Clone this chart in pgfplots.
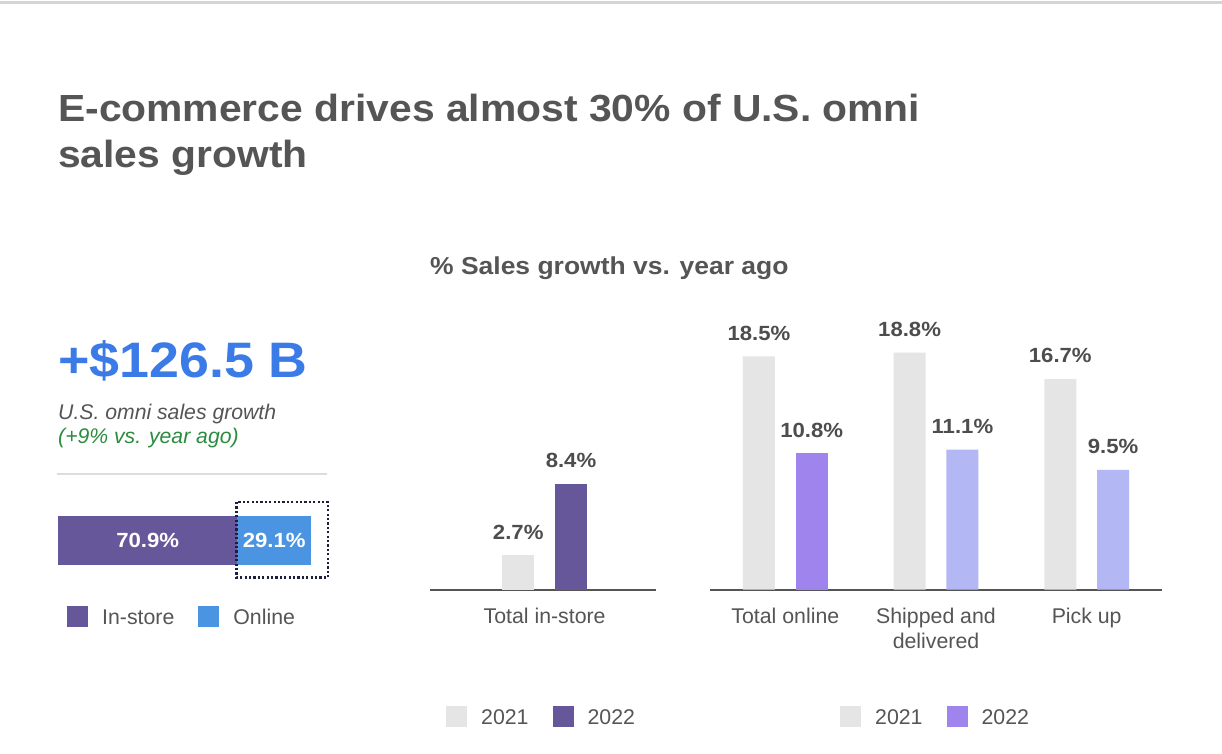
\documentclass[border=0pt]{standalone}
\usepackage{fontspec}
\setmainfont{Liberation Sans}[BoldFeatures={FakeStretch=1.08}]
\usepackage{pgfplots}
\pgfplotsset{compat=1.18}

\definecolor{txt}{HTML}{555555}
\definecolor{valtxt}{HTML}{4D4D4D}
\definecolor{bignum}{HTML}{3B7BE8}
\definecolor{goodgreen}{HTML}{2A8C3F}
\definecolor{instore}{HTML}{66579A}
\definecolor{online}{HTML}{4A94E2}
\definecolor{prior}{HTML}{E5E5E5}
\definecolor{onlineyr}{HTML}{A084EE}
\definecolor{channelyr}{HTML}{B3B8F5}
\definecolor{axisgray}{HTML}{555555}
\definecolor{rulegray}{HTML}{DDDDDD}
\definecolor{topgray}{HTML}{D4D4D4}
\definecolor{boxnavy}{HTML}{1C1F3D}

\newcommand\valfont{\bfseries\fontsize{20.5}{24}\selectfont}
\newcommand\catfont{\fontsize{21.3}{25}\selectfont}

\pgfplotsset{
  swatch legend/.style={
    legend image code/.code={\fill[##1] (0pt,-10.5pt) rectangle (21pt,10.5pt);},
    legend style={draw=none, fill=none, legend columns=2, anchor=west,
      font=\catfont, text=txt, inner sep=0pt,
      cells={anchor=center},
      nodes={inner sep=0pt, text depth=0pt, text height=15pt},
      /tikz/every odd column/.append style={column sep=14pt},
      /tikz/every even column/.append style={column sep=24pt}},
  },
  growth bars/.style={
    scale only axis, height=252pt, ymin=0, ymax=20,
    axis x line=bottom, axis y line=none,
    axis line style={-, draw=axisgray, line width=2pt},
    ytick=\empty, xtick style={draw=none}, major tick length=0pt,
    ybar, bar width=32pt, clip=false,
    /pgf/number format/assume math mode=true,
    nodes near coords={\pgfmathprintnumber[fixed,fixed zerofill,precision=1]{\pgfplotspointmeta}\%},
    every node near coord/.append style={font=\valfont, text=valtxt, inner sep=0pt, yshift=16pt},
    xticklabel style={font=\catfont, text=txt, align=center, anchor=north, inner sep=0pt, yshift=-18.3pt},
    swatch legend,
  },
}

\begin{document}
\begin{tikzpicture}[x=1pt,y=1pt]
\path[use as bounding box] (0,0) rectangle (1222,753);
\fill[white] (0,0) rectangle (1222,753);
\draw[topgray, line width=2.5pt] (0,750.5) -- (1222,750.5);

% headline
\node[anchor=base west, inner sep=0pt, text=txt, font=\bfseries\fontsize{37.8}{44}\selectfont]
  at (58,631) {E-commerce drives almost 30\% of U.S. omni};
\node[anchor=base west, inner sep=0pt, text=txt, font=\bfseries\fontsize{37.8}{44}\selectfont]
  at (58,585) {sales growth};

% panel heading
\node[anchor=base west, inner sep=0pt, text=txt, font=\bfseries\fontsize{24.5}{30}\selectfont]
  at (430,478) {\% Sales growth vs. year ago};

% key figure
\node[anchor=base west, inner sep=0pt, text=bignum, font=\bfseries\fontsize{49.8}{56}\selectfont]
  at (58,375) {+\$126.5 B};
\node[anchor=base west, inner sep=0pt, text=txt, font=\itshape\fontsize{21.2}{25}\selectfont]
  at (58,334) {U.S. omni sales growth};
\node[anchor=base west, inner sep=0pt, text=goodgreen, font=\itshape\fontsize{21.2}{25}\selectfont]
  at (58,310) {(+9\% vs. year ago)};
\draw[rulegray, line width=1.3pt] (57,279) -- (327,279);

% share of growth: in-store vs online (stacked labels sit mid-segment)
\begin{axis}[
  at={(58pt,188pt)}, anchor=south west,
  scale only axis, width=253pt, height=49pt,
  xmin=0, xmax=100, ymin=-0.5, ymax=0.5,
  hide axis, clip=false,
  xbar stacked, bar width=49pt,
  point meta=explicit,
  /pgf/number format/assume math mode=true,
  nodes near coords={\pgfmathprintnumber[fixed,fixed zerofill,precision=1]{\pgfplotspointmeta}\%},
  every node near coord/.append style={font=\valfont, text=white, anchor=center, inner sep=0pt},
  swatch legend,
  legend style={at={(0.0356,-1.061)}},
]
\addplot[fill=instore, draw=none] coordinates {(70.9,0) [70.9]};
\addplot[fill=online, draw=none] coordinates {(29.1,0) [29.1]};
\legend{In-store, Online}
\end{axis}
\draw[boxnavy, line width=2.2pt, dash pattern=on 2.2pt off 2.2pt] (236.5,251) rectangle (328,175.5);

% in-store growth
\begin{axis}[
  growth bars,
  at={(430pt,163.5pt)}, anchor=south west,
  width=226pt, xmin=-114.6, xmax=111.4,
  xtick={0}, xticklabels={Total in-store},
  legend style={at={(0.0708,-0.504)}},
]
\addplot[fill=prior, draw=none, bar shift=-26.4pt] coordinates {(0,2.7)};
\addplot[fill=instore, draw=none, bar shift=26.4pt] coordinates {(0,8.4)};
\legend{2021, 2022}
\end{axis}

% online growth by fulfilment channel
\begin{axis}[
  growth bars,
  at={(710pt,163.5pt)}, anchor=south west,
  width=452pt, xmin=-0.5, xmax=2.5,
  xtick={0,1,2}, xticklabels={Total online, Shipped and\\delivered, Pick up},
  legend style={at={(0.2876,-0.504)}},
]
\addplot[fill=prior, draw=none, bar shift=-26.4pt] coordinates {(0,18.5) (1,18.8) (2,16.7)};
\addplot[fill=onlineyr, draw=none, bar shift=26.4pt] coordinates {(0,10.8)};
\addplot[fill=channelyr, draw=none, bar shift=26.4pt, forget plot] coordinates {(1,11.1) (2,9.5)};
\legend{2021, 2022}
\end{axis}
\end{tikzpicture}
\end{document}
